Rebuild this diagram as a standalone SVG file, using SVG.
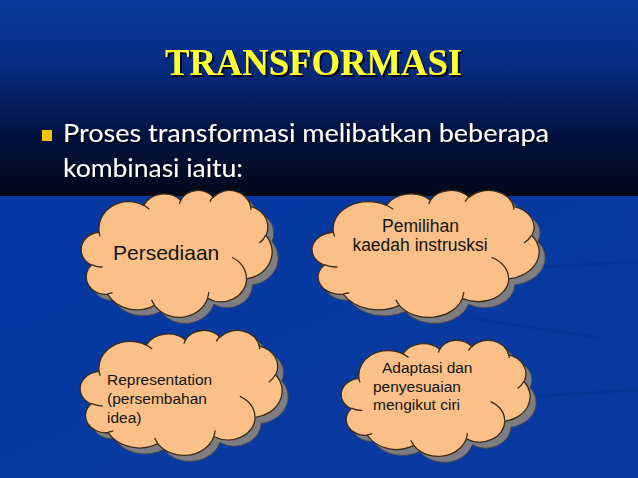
<svg xmlns="http://www.w3.org/2000/svg" xmlns:xlink="http://www.w3.org/1999/xlink" width="638" height="478" viewBox="0 0 638 478">
<style>
.title{font-family:"Liberation Serif","Times New Roman",serif;font-weight:bold;font-size:38px}
.bul{font-family:Lato,"Open Sans","Liberation Sans",sans-serif;font-size:25px}
.lbl{font-family:"Liberation Sans",Arial,sans-serif;fill:#141414}
</style>
<defs>
<filter id="tshadow" x="-5%" y="-20%" width="110%" height="150%">
<feDropShadow dx="2" dy="2" stdDeviation="0.6" flood-color="#000000" flood-opacity="0.85"/>
</filter>
<filter id="bshadow" x="-5%" y="-20%" width="110%" height="150%">
<feDropShadow dx="1.5" dy="1.5" stdDeviation="0.5" flood-color="#000000" flood-opacity="0.7"/>
</filter>
<linearGradient id="topbg" x1="0" y1="0" x2="0" y2="1">
<stop offset="0" stop-color="#0a3ca0"/>
<stop offset="0.35" stop-color="#062a7e"/>
<stop offset="0.7" stop-color="#03123e"/>
<stop offset="1" stop-color="#010819"/>
</linearGradient>
<linearGradient id="botbg" x1="0" y1="0" x2="1" y2="1">
<stop offset="0" stop-color="#0638a2"/>
<stop offset="1" stop-color="#0a3aa0"/>
</linearGradient>
<path id="cloudOutline" vector-effect="non-scaling-stroke" d="M 9.03 33.26 A 15.63 21.27 0 0 1 32.43 12.05 A 12.34 16.82 0 0 1 51.99 7.96 A 10.10 13.76 0 0 1 69.07 5.76 A 11.24 15.27 0 0 1 88.73 12.91 A 12.34 16.84 0 0 1 96.83 35.80 A 15.68 21.34 0 0 1 86.61 69.92 A 13.39 18.21 0 0 1 66.12 85.21 A 15.63 21.33 0 0 1 38.18 90.89 A 17.87 24.41 0 0 1 13.49 82.11 A 10.09 13.70 0 0 1 4.93 59.17 A 10.06 13.76 0 0 1 9.03 33.26 Z"/>
<path id="cloudCreases" vector-effect="non-scaling-stroke" fill="none" d="M 10.86 60.59 A 10.06 13.76 0 0 1 5.02 58.76 M 16.04 80.78 A 10.09 13.70 0 0 1 13.46 81.67 M 38.14 90.49 A 15.63 21.33 0 0 1 36.59 86.46 M 66.73 80.44 A 15.63 21.33 0 0 1 66.11 84.87 M 79.00 53.13 A 13.39 18.21 0 0 1 86.52 69.65 M 96.75 35.54 A 12.34 16.84 0 0 1 93.40 41.74 M 88.71 12.56 A 11.24 15.27 0 0 1 88.89 15.48 M 67.31 9.15 A 11.24 15.27 0 0 1 69.02 5.42 M 51.25 10.93 A 10.10 13.76 0 0 1 52.08 7.71 M 32.41 12.02 A 15.63 21.27 0 0 1 35.42 15.15 M 9.55 36.55 A 15.63 21.27 0 0 1 9.03 33.27"/>
</defs>

<g id="background">
<rect x="0" y="0" width="638" height="196" fill="url(#topbg)"/>
<rect x="0" y="196" width="638" height="282" fill="url(#botbg)"/>
<g stroke="#021f70" stroke-opacity="0.18" stroke-width="3" fill="none">
<path d="M 475 270 L 638 262"/>
<path d="M 470 318 L 600 338"/>
<path d="M 470 400 L 638 390"/>
</g>
</g>

<g id="title">
<text class="title" x="165" y="75" fill="#ffff33" filter="url(#tshadow)" textLength="297" lengthAdjust="spacingAndGlyphs">TRANSFORMASI</text>
</g>

<g id="bullet">
<rect x="42" y="130" width="10" height="11" fill="#f5c400"/>
<g fill="#ffffff" filter="url(#bshadow)">
<text class="bul" x="63" y="142" textLength="486" lengthAdjust="spacingAndGlyphs">Proses transformasi melibatkan beberapa</text>
<text class="bul" x="63" y="176.5" textLength="180" lengthAdjust="spacingAndGlyphs">kombinasi iaitu:</text>
</g>
</g>

<g id="connectors"></g>

<g id="node-persediaan">
<use xlink:href="#cloudOutline" transform="translate(88,196) scale(1.90,1.27)" fill="#7e7e82" stroke="#4a4a50" stroke-width="1"/>
<use xlink:href="#cloudOutline" transform="translate(82,190) scale(1.90,1.27)" fill="#fac088" stroke="#3a2a18" stroke-width="1.3"/>
<use xlink:href="#cloudCreases" transform="translate(82,190) scale(1.90,1.27)" stroke="#3a2a18" stroke-width="1.3"/>
<text class="lbl" x="113" y="260" font-size="21">Persediaan</text>
</g>

<g id="node-pemilihan">
<use xlink:href="#cloudOutline" transform="translate(319,196) scale(2.26,1.27)" fill="#7e7e82" stroke="#4a4a50" stroke-width="1"/>
<use xlink:href="#cloudOutline" transform="translate(313,190) scale(2.26,1.27)" fill="#fac088" stroke="#3a2a18" stroke-width="1.3"/>
<use xlink:href="#cloudCreases" transform="translate(313,190) scale(2.26,1.27)" stroke="#3a2a18" stroke-width="1.3"/>
<text class="lbl" x="420.5" y="232" font-size="17.5" text-anchor="middle">Pemilihan</text>
<text class="lbl" x="420" y="251" font-size="17.5" text-anchor="middle">kaedah instrusksi</text>
</g>

<g id="node-representation">
<use xlink:href="#cloudOutline" transform="translate(87,336) scale(2.01,1.25)" fill="#7e7e82" stroke="#4a4a50" stroke-width="1"/>
<use xlink:href="#cloudOutline" transform="translate(81,330) scale(2.01,1.25)" fill="#fac088" stroke="#3a2a18" stroke-width="1.3"/>
<use xlink:href="#cloudCreases" transform="translate(81,330) scale(2.01,1.25)" stroke="#3a2a18" stroke-width="1.3"/>
<text class="lbl" x="107" y="385" font-size="15.5">Representation</text>
<text class="lbl" x="107" y="404" font-size="15.5">(persembahan</text>
<text class="lbl" x="107" y="423" font-size="15.5">idea)</text>
</g>

<g id="node-adaptasi">
<use xlink:href="#cloudOutline" transform="translate(348,346) scale(1.88,1.16)" fill="#7e7e82" stroke="#4a4a50" stroke-width="1"/>
<use xlink:href="#cloudOutline" transform="translate(342,340) scale(1.88,1.16)" fill="#fac088" stroke="#3a2a18" stroke-width="1.3"/>
<use xlink:href="#cloudCreases" transform="translate(342,340) scale(1.88,1.16)" stroke="#3a2a18" stroke-width="1.3"/>
<text class="lbl" x="382" y="373" font-size="15.5">Adaptasi dan</text>
<text class="lbl" x="373" y="392" font-size="15.5">penyesuaian</text>
<text class="lbl" x="373" y="410" font-size="15.5">mengikut ciri</text>
</g>
</svg>
